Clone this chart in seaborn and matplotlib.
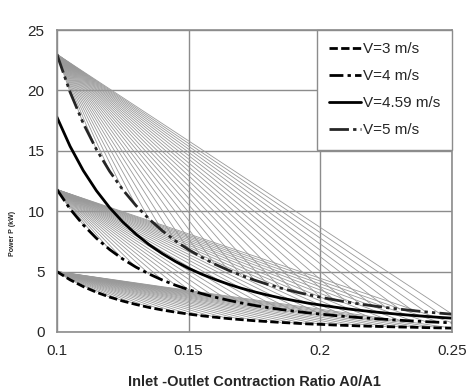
"""
Power vs inlet-outlet contraction ratio for four wind speeds,
with the grey fan of chords drawn from each curve's first point.
"""

import pandas as pd
import seaborn as sns
import matplotlib.pyplot as plt

# ---------------------------
# Data
# ---------------------------
RATIO = [0.100, 0.105, 0.110, 0.115, 0.120, 0.125, 0.130, 0.135, 0.140, 0.145,
         0.150, 0.155, 0.160, 0.165, 0.170, 0.175, 0.180, 0.185, 0.190, 0.195,
         0.200, 0.205, 0.210, 0.215, 0.220, 0.225, 0.230, 0.235, 0.240, 0.245,
         0.250]

P_V3 = [5.00, 4.32, 3.76, 3.29, 2.89, 2.56, 2.28, 2.03, 1.82, 1.64,
        1.48, 1.34, 1.22, 1.11, 1.02, 0.93, 0.86, 0.79, 0.73, 0.67,
        0.63, 0.58, 0.54, 0.50, 0.47, 0.44, 0.41, 0.39, 0.36, 0.34,
        0.32]

P_V4 = [11.80, 10.19, 8.87, 7.76, 6.83, 6.04, 5.37, 4.80, 4.30, 3.87,
        3.50, 3.17, 2.88, 2.63, 2.40, 2.20, 2.02, 1.86, 1.72, 1.59,
        1.48, 1.37, 1.27, 1.19, 1.11, 1.04, 0.97, 0.91, 0.85, 0.80,
        0.76]

P_V459 = [17.80, 15.38, 13.37, 11.70, 10.30, 9.11, 8.10, 7.23, 6.49, 5.84,
          5.27, 4.78, 4.35, 3.96, 3.62, 3.32, 3.05, 2.81, 2.60, 2.40,
          2.23, 2.07, 1.92, 1.79, 1.67, 1.56, 1.46, 1.37, 1.29, 1.21,
          1.14]

P_V5 = [23.00, 19.87, 17.28, 15.12, 13.31, 11.78, 10.47, 9.35, 8.38, 7.54,
        6.81, 6.18, 5.61, 5.12, 4.68, 4.29, 3.94, 3.63, 3.35, 3.10,
        2.88, 2.67, 2.48, 2.31, 2.16, 2.02, 1.89, 1.77, 1.66, 1.56,
        1.47]

SERIES = ["V=3 m/s", "V=4 m/s", "V=4.59 m/s", "V=5 m/s"]
VALUES = [P_V3, P_V4, P_V459, P_V5]
FANNED = ["V=3 m/s", "V=4 m/s", "V=5 m/s"]

X_TICKS = [0.1, 0.15, 0.2, 0.25]
X_TICK_LABELS = ["0.1", "0.15", "0.2", "0.25"]
Y_TICKS = [0, 5, 10, 15, 20, 25]

# ---------------------------
# Build tables
# ---------------------------
curves = pd.concat(
    [pd.DataFrame({"ratio": RATIO, "power": v, "series": s}) for s, v in zip(SERIES, VALUES)],
    ignore_index=True,
)

fan_rows = []
for s, v in zip(SERIES, VALUES):
    if s not in FANNED:
        continue
    for i in range(1, len(RATIO)):
        seg = f"{s}-{i}"
        fan_rows.append({"ratio": RATIO[0], "power": v[0], "seg": seg})
        fan_rows.append({"ratio": RATIO[i], "power": v[i], "seg": seg})
fan = pd.DataFrame(fan_rows)

# ---------------------------
# Plot
# ---------------------------
sns.set_style("white")
plt.rcParams["font.family"] = ["Liberation Sans", "DejaVu Sans"]

fig = plt.figure(figsize=(4.74, 3.91), dpi=100)
ax = fig.add_axes([0.120, 0.151, 0.834, 0.772])

sns.lineplot(data=fan, x="ratio", y="power", units="seg", estimator=None,
             sort=False, color="0.6", lw=0.6, ax=ax, legend=False)

styles = {
    "V=3 m/s": dict(color="black", dashes=(3, 1.2)),
    "V=4 m/s": dict(color="black", dashes=(5, 1.5, 1.2, 1.5)),
    "V=4.59 m/s": dict(color="black", dashes=()),
    "V=5 m/s": dict(color="0.15", dashes=(7, 1.5, 1.2, 1.5, 1.2, 1.5)),
}
for s in SERIES:
    d = curves[curves["series"] == s]
    line = sns.lineplot(data=d, x="ratio", y="power", lw=2, ax=ax,
                        color=styles[s]["color"], label=s).lines[-1]
    if styles[s]["dashes"]:
        line.set_dashes(styles[s]["dashes"])

ax.set_xlim(0.1, 0.25)
ax.set_ylim(0, 25)
ax.set_xticks(X_TICKS)
ax.set_xticklabels(X_TICK_LABELS)
ax.set_yticks(Y_TICKS)
ax.grid(True, color="0.55", lw=1)
ax.set_axisbelow(True)
for sp in ax.spines.values():
    sp.set_color("0.55")
    sp.set_linewidth(1.2)
ax.tick_params(axis="both", labelsize=11, length=3, color="0.4", pad=6)

ax.set_xlabel("Inlet -Outlet Contraction Ratio A0/A1", fontsize=10.5,
              fontweight="bold", labelpad=12)
ax.set_ylabel("Power P (kW)", fontsize=5, fontweight="bold")
ax.yaxis.set_label_coords(-0.104, 0.325)

leg = ax.legend(loc="upper right", bbox_to_anchor=(1.0, 1.0), borderaxespad=0,
                fontsize=11, handlelength=2.1, handletextpad=0.1,
                labelspacing=0.85, borderpad=0.8, fancybox=False,
                framealpha=1, edgecolor="0.55")
leg.get_frame().set_linewidth(1)

# ---------------------------
# Save PNG
# ---------------------------
fig.savefig("out.png", dpi=100)
